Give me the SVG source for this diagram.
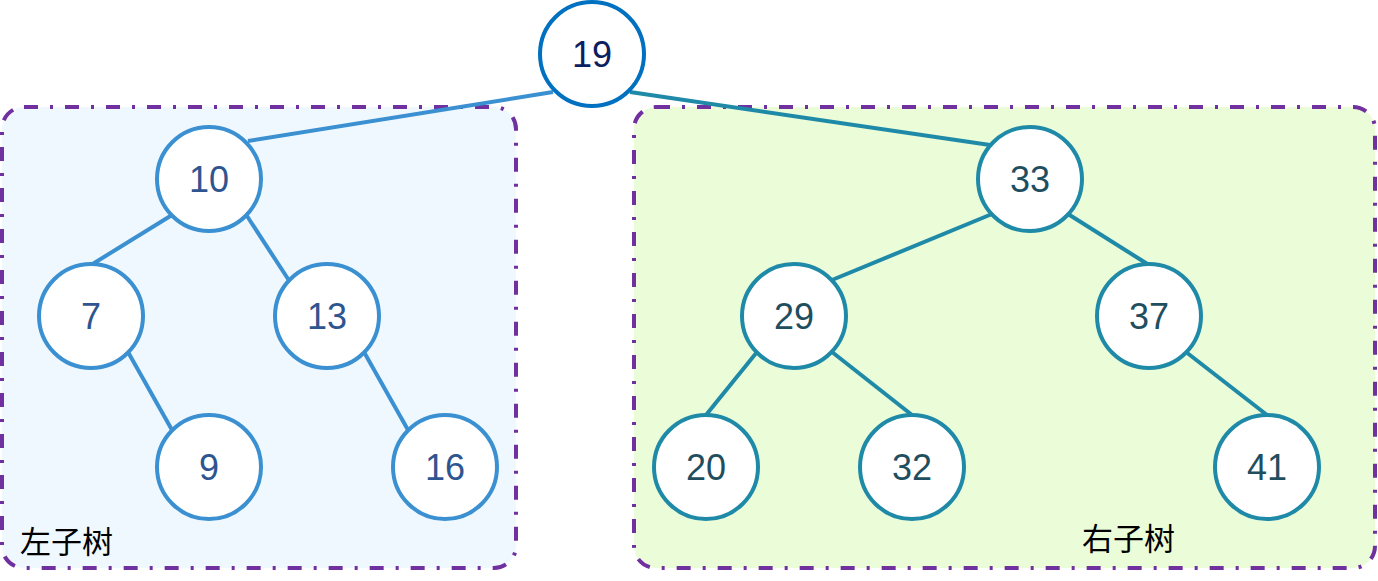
<svg xmlns="http://www.w3.org/2000/svg" width="1378" height="581" viewBox="0 0 1378 581">
<style>
.box{stroke:#7030a0;stroke-width:4;stroke-dasharray:14 12 3 12}
.n circle{fill:#fff;stroke-width:4}
.L circle{stroke:#3a90d0}.L text{fill:#2f5590}
.R circle{stroke:#1f8aa8}.R text{fill:#1f4e5f}
#n19 circle{stroke:#0070c0}#n19 text{fill:#0b2060}
text{font-family:"Liberation Sans",Arial,sans-serif;font-size:36px;text-anchor:middle}
.lab{font-family:"Liberation Sans","Noto Sans CJK SC",sans-serif;font-size:31px;text-anchor:start;fill:#000}
#edges line{stroke-width:4}
</style>
<rect class="box" x="2" y="107" width="514" height="461" rx="22" fill="#f0f8ff"/>
<rect class="box" x="634" y="107" width="741" height="461" rx="22" fill="#ebfcd8"/>
<text class="lab" x="20" y="553">左子树</text>
<text class="lab" x="1082" y="550">右子树</text>
<g id="edges">
<line x1="553" y1="92" x2="248" y2="141" stroke="#3a90d0"/>
<line x1="630" y1="92" x2="990" y2="145" stroke="#1f8aa8"/>
<g stroke="#3a90d0">
<line x1="172" y1="215" x2="91" y2="265"/><line x1="247" y1="216" x2="290" y2="282"/>
<line x1="128" y1="352" x2="172" y2="430"/><line x1="364" y1="352" x2="408" y2="430"/>
</g>
<g stroke="#1f8aa8">
<line x1="992" y1="214" x2="832" y2="280"/><line x1="1068" y1="214" x2="1149" y2="265"/>
<line x1="757" y1="352" x2="706" y2="415"/><line x1="832" y1="352" x2="912" y2="415"/>
<line x1="1186" y1="352" x2="1267" y2="415"/>
</g>
</g>
<g id="n19" class="n"><circle cx="592" cy="54" r="52"/><text x="592" y="67">19</text></g>
<g id="n10" class="n L"><circle cx="209" cy="179" r="52"/><text x="209" y="192">10</text></g>
<g id="n7" class="n L"><circle cx="91" cy="316" r="52"/><text x="91" y="329">7</text></g>
<g id="n13" class="n L"><circle cx="327" cy="316" r="52"/><text x="327" y="329">13</text></g>
<g id="n9" class="n L"><circle cx="209" cy="467" r="52"/><text x="209" y="480">9</text></g>
<g id="n16" class="n L"><circle cx="445" cy="467" r="52"/><text x="445" y="480">16</text></g>
<g id="n33" class="n R"><circle cx="1030" cy="179" r="52"/><text x="1030" y="192">33</text></g>
<g id="n29" class="n R"><circle cx="794" cy="316" r="52"/><text x="794" y="329">29</text></g>
<g id="n37" class="n R"><circle cx="1149" cy="316" r="52"/><text x="1149" y="329">37</text></g>
<g id="n20" class="n R"><circle cx="706" cy="467" r="52"/><text x="706" y="480">20</text></g>
<g id="n32" class="n R"><circle cx="912" cy="467" r="52"/><text x="912" y="480">32</text></g>
<g id="n41" class="n R"><circle cx="1267" cy="467" r="52"/><text x="1267" y="480">41</text></g>
</svg>
